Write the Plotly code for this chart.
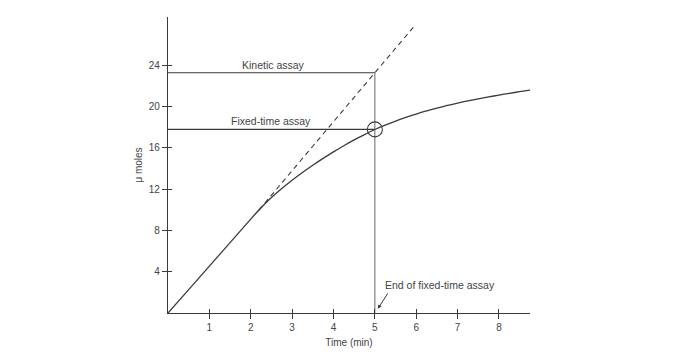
import plotly.graph_objects as go

time_min = [0, 0.5, 1.0, 1.5, 2.0, 2.25, 2.5, 2.75, 3.0, 3.25, 3.5, 3.75, 4.0, 4.25, 4.5, 4.75,
            5.0, 5.25, 5.5, 5.75, 6.0, 6.25, 6.5, 6.75, 7.0, 7.25, 7.5, 7.75, 8.0, 8.25, 8.5, 8.75]
umoles = [0, 2.27, 4.55, 6.82, 9.1, 10.2, 11.2, 12.08, 12.88, 13.63, 14.33, 14.99, 15.62, 16.22, 16.78, 17.3,
          17.79, 18.22, 18.61, 18.96, 19.29, 19.59, 19.86, 20.12, 20.36, 20.57, 20.77, 20.95, 21.13, 21.3, 21.46, 21.62]
tangent_t = [2.2, 5.95]
tangent_y = [10.0, 27.8]
kinetic_value = 23.3
fixed_value = 17.8
assay_end = 5
x_ticks = [1, 2, 3, 4, 5, 6, 7, 8]
y_ticks = [4, 8, 12, 16, 20, 24]

ink = "#3a3a3a"
txt = "#444444"
font = "Liberation Sans, Arial, sans-serif"

fig = go.Figure()
fig.add_trace(go.Scatter(x=time_min, y=umoles, mode="lines", line=dict(color=ink, width=1.3, shape="spline", smoothing=0.6), hoverinfo="skip"))
fig.add_trace(go.Scatter(x=tangent_t, y=tangent_y, mode="lines", line=dict(color=ink, width=1.1, dash="5px,4px"), hoverinfo="skip"))
fig.add_trace(go.Scatter(x=[0, assay_end], y=[kinetic_value, kinetic_value], mode="lines", line=dict(color=ink, width=1.1), hoverinfo="skip"))
fig.add_trace(go.Scatter(x=[0, assay_end], y=[fixed_value, fixed_value], mode="lines", line=dict(color=ink, width=1.1), hoverinfo="skip"))
fig.add_trace(go.Scatter(x=[assay_end, assay_end], y=[0, kinetic_value], mode="lines", line=dict(color="#555555", width=0.9), hoverinfo="skip"))
fig.add_trace(go.Scatter(x=[assay_end], y=[fixed_value], mode="markers", marker=dict(symbol="circle-open", size=15, color=ink, line=dict(width=1.1, color=ink)), hoverinfo="skip"))

fig.add_annotation(x=2.55, y=kinetic_value, text="Kinetic assay", showarrow=False, yanchor="bottom", font=dict(size=10.5, color=txt, family=font))
fig.add_annotation(x=2.5, y=fixed_value, text="Fixed-time assay", showarrow=False, yanchor="bottom", font=dict(size=10.5, color=txt, family=font))
fig.add_annotation(x=5.2, y=2.75, text="End of fixed-time assay", showarrow=False, xanchor="left", font=dict(size=10.5, color=txt, family=font))
fig.add_annotation(x=5.07, y=0.4, text="", showarrow=True, ax=11, ay=-17, arrowhead=2, arrowsize=0.8, arrowwidth=1, arrowcolor=ink)

axis_common = dict(showgrid=False, zeroline=False, showline=True, linecolor=ink, linewidth=1.2,
                   ticks="outside", ticklen=5, tickcolor=ink, tickwidth=1,
                   tickfont=dict(size=10, color=txt, family=font))
fig.update_layout(
    width=700, height=360,
    margin=dict(l=160, r=178, t=9, b=55),
    paper_bgcolor="white", plot_bgcolor="white",
    showlegend=False,
    xaxis=dict(range=[0, 8.75], tickvals=x_ticks, title=dict(text="Time (min)", font=dict(size=10, color=txt, family=font), standoff=6), **axis_common),
    yaxis=dict(range=[0, 28.7], tickvals=y_ticks, title=dict(text="μ moles", font=dict(size=10, color=txt, family=font), standoff=4), **axis_common),
    xaxis2=dict(range=[0, 8.75], tickvals=x_ticks, overlaying="x", showticklabels=False, showgrid=False, zeroline=False, ticks="inside", ticklen=4, tickcolor=ink, side="bottom", anchor="y"),
    yaxis2=dict(range=[0, 28.7], tickvals=y_ticks, overlaying="y", showticklabels=False, showgrid=False, zeroline=False, ticks="inside", ticklen=4, tickcolor=ink, side="left", anchor="x"),
)
fig.add_trace(go.Scatter(x=[None], y=[None], xaxis="x2", yaxis="y2", hoverinfo="skip"))

fig.write_html("out.html")
